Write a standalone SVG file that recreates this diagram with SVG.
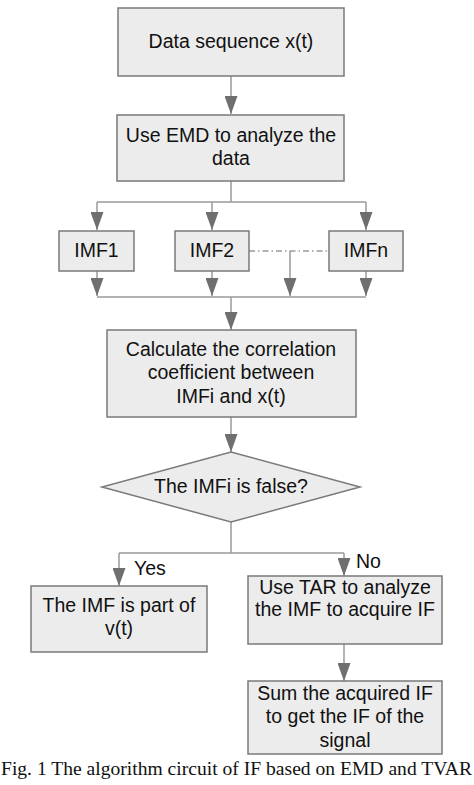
<svg xmlns="http://www.w3.org/2000/svg" width="474" height="785" viewBox="0 0 474 785">
<style>
.box{fill:#ececec;stroke:#7a7a7a;stroke-width:1.5}
.t{font-family:"Liberation Sans",Arial,sans-serif;font-size:19.5px;fill:#111;text-anchor:middle}
.lbl{font-family:"Liberation Sans",Arial,sans-serif;font-size:19.5px;fill:#111}
.c{fill:none;stroke:#9a9a9a;stroke-width:1.5}
.a{marker-end:url(#ah)}
.dd{stroke-dasharray:6 3 1.5 3}
.cap{font-family:"Liberation Serif","Times New Roman",serif;font-size:19px;fill:#111}
</style>
<defs>
<marker id="ah" markerUnits="userSpaceOnUse" markerWidth="18" markerHeight="13" viewBox="0 0 18 13" refX="18" refY="6.5" orient="auto">
<path d="M0,0 L18,6.5 L0,13 z" fill="#6f6f6f"/>
</marker>
</defs>
<rect width="474" height="785" fill="#fff"/>
<g id="connectors">
<line class="c a" x1="231" y1="76" x2="231" y2="114"/>
<line class="c" x1="231" y1="181" x2="231" y2="202"/>
<line class="c" x1="97" y1="202" x2="366" y2="202"/>
<line class="c a" x1="97" y1="202" x2="97" y2="230"/>
<line class="c a" x1="212" y1="202" x2="212" y2="230"/>
<line class="c a" x1="366" y1="202" x2="366" y2="230"/>
<line class="c a" x1="97" y1="271" x2="97" y2="296"/>
<line class="c a" x1="212" y1="271" x2="212" y2="296"/>
<line class="c a" x1="366" y1="271" x2="366" y2="296"/>
<line class="c dd" x1="249" y1="251" x2="329" y2="251"/>
<line class="c a" x1="290" y1="251" x2="290" y2="296"/>
<line class="c" x1="97" y1="297" x2="366" y2="297"/>
<line class="c a" x1="231" y1="297" x2="231" y2="330"/>
<line class="c a" x1="231" y1="417" x2="231" y2="452"/>
<line class="c" x1="231" y1="522" x2="231" y2="553"/>
<line class="c" x1="119" y1="553" x2="344" y2="553"/>
<line class="c a" x1="119" y1="553" x2="119" y2="586"/>
<line class="c a" x1="344" y1="553" x2="344" y2="576"/>
<line class="c a" x1="344" y1="644" x2="344" y2="681"/>
<text class="lbl" x="134" y="575">Yes</text>
<text class="lbl" x="356" y="568">No</text>
</g>
<g id="n1"><rect class="box" x="118" y="8" width="226" height="68"/><text class="t" x="231" y="48">Data sequence x(t)</text></g>
<g id="n2"><rect class="box" x="117" y="115" width="227" height="66"/><text class="t" x="231" y="142">Use EMD to analyze the</text><text class="t" x="231" y="165">data</text></g>
<g id="imf1"><rect class="box" x="59" y="231" width="75" height="40"/><text class="t" x="96.5" y="257">IMF1</text></g>
<g id="imf2"><rect class="box" x="175" y="231" width="74" height="40"/><text class="t" x="212" y="257">IMF2</text></g>
<g id="imfn"><rect class="box" x="329" y="231" width="74" height="40"/><text class="t" x="366" y="257">IMFn</text></g>
<g id="n3"><rect class="box" x="107" y="330" width="249" height="87"/><text class="t" x="231" y="356">Calculate the correlation</text><text class="t" x="231" y="379">coefficient between</text><text class="t" x="231" y="403">IMFi and x(t)</text></g>
<g id="dec"><polygon class="box" points="231,452 360,487 231,522 102,487"/><text class="t" x="231" y="493">The IMFi is false?</text></g>
<g id="yes"><rect class="box" x="31" y="586" width="176" height="66"/><text class="t" x="119" y="612">The IMF is part of</text><text class="t" x="119" y="635">v(t)</text></g>
<g id="tar"><rect class="box" x="248" y="576" width="194" height="68"/><text class="t" x="345" y="594">Use TAR to analyze</text><text class="t" x="345" y="616">the IMF to acquire IF</text></g>
<g id="sum"><rect class="box" x="248" y="681" width="194" height="73"/><text class="t" x="345" y="700">Sum the acquired IF</text><text class="t" x="345" y="723">to get the IF of the</text><text class="t" x="345" y="747">signal</text></g>
<text class="cap" x="1" y="775" textLength="471" lengthAdjust="spacingAndGlyphs">Fig. 1 The algorithm circuit of IF based on EMD and TVAR</text>
</svg>
